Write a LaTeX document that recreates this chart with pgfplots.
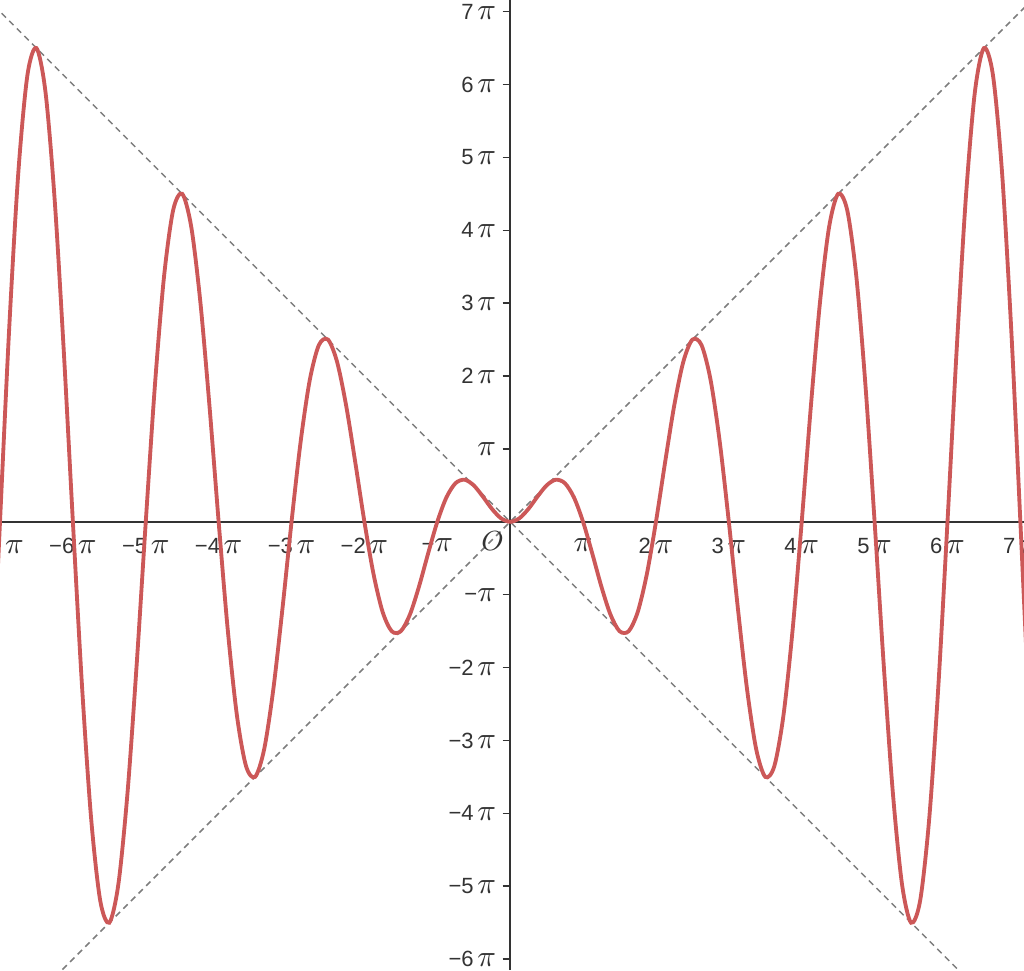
\documentclass[border=0pt]{standalone}
\usepackage{fontspec}
\setmainfont{Liberation Sans}
\usepackage{graphicx}
\usepackage{pgfplots}
\usepackage{pgfplotstable}
\pgfplotsset{compat=1.18}
\definecolor{curvered}{RGB}{204,88,88}
\definecolor{axisgray}{RGB}{51,51,51}
\definecolor{dashgray}{RGB}{125,125,125}
\newcommand{\p}{\scalebox{1.3}{$\pi$}}

% y = x sin x, both axes in units of pi
\pgfplotstableread{
t y
-7.125 -2.7266
-7 0
-6.875 2.6309
-6.75 4.7730
-6.625 6.1207
-6.5 6.5
-6.375 5.8897
-6.25 4.4194
-6.125 2.3439
-6 0
-5.875 -2.2483
-5.75 -4.0659
-5.625 -5.1968
-5.5 -5.5
-5.375 -4.9659
-5.25 -3.7123
-5.125 -1.9613
-5 0
-4.875 1.8656
-4.75 3.3588
-4.625 4.2729
-4.5 4.5
-4.375 4.0420
-4.25 3.0052
-4.125 1.5786
-4 0
-3.875 -1.4829
-3.75 -2.6517
-3.625 -3.3491
-3.5 -3.5
-3.375 -3.1181
-3.25 -2.2981
-3.125 -1.1959
-3 0
-2.875 1.1002
-2.75 1.9445
-2.625 2.4252
-2.5 2.5
-2.375 2.1942
-2.25 1.5910
-2.125 0.8132
-2 0
-1.875 -0.7175
-1.75 -1.2374
-1.625 -1.5013
-1.5 -1.5
-1.375 -1.2703
-1.25 -0.8839
-1.125 -0.4305
-1 0
-0.875 0.3348
-0.75 0.5303
-0.625 0.5774
-0.5 0.5
-0.375 0.3465
-0.25 0.1768
-0.125 0.0478
0 0
0.125 0.0478
0.25 0.1768
0.375 0.3465
0.5 0.5
0.625 0.5774
0.75 0.5303
0.875 0.3348
1 0
1.125 -0.4305
1.25 -0.8839
1.375 -1.2703
1.5 -1.5
1.625 -1.5013
1.75 -1.2374
1.875 -0.7175
2 0
2.125 0.8132
2.25 1.5910
2.375 2.1942
2.5 2.5
2.625 2.4252
2.75 1.9445
2.875 1.1002
3 0
3.125 -1.1959
3.25 -2.2981
3.375 -3.1181
3.5 -3.5
3.625 -3.3491
3.75 -2.6517
3.875 -1.4829
4 0
4.125 1.5786
4.25 3.0052
4.375 4.0420
4.5 4.5
4.625 4.2729
4.75 3.3588
4.875 1.8656
5 0
5.125 -1.9613
5.25 -3.7123
5.375 -4.9659
5.5 -5.5
5.625 -5.1968
5.75 -4.0659
5.875 -2.2483
6 0
6.125 2.3439
6.25 4.4194
6.375 5.8897
6.5 6.5
6.625 6.1207
6.75 4.7730
6.875 2.6309
7 0
7.125 -2.7266
}\curve

\begin{document}
\begin{tikzpicture}
\useasboundingbox (0,0) rectangle (14.05cm,13.31cm);
\clip (0,0) rectangle (14.05cm,13.31cm);
\begin{axis}[
    scale only axis,
    width=14.05cm, height=13.31cm,
    xmin=-7, xmax=7.05,
    ymin=-6.15, ymax=7.16,
    axis lines=middle,
    axis line style={axisgray, line width=0.6pt, -},
    xtick={-7,-6,-5,-4,-3,-2,-1,1,2,3,4,5,6,7},
    xticklabels={−7\,\p,−6\,\p,−5\,\p,−4\,\p,−3\,\p,−2\,\p,−\p,\p,2\,\p,3\,\p,4\,\p,5\,\p,6\,\p,7\,\p},
    ytick={-6,-5,-4,-3,-2,-1,1,2,3,4,5,6,7},
    yticklabels={−6\,\p,−5\,\p,−4\,\p,−3\,\p,−2\,\p,−\p,\p,2\,\p,3\,\p,4\,\p,5\,\p,6\,\p,7\,\p},
    tick label style={font=\fontsize{8.6}{10}\selectfont, text=axisgray},
    xticklabel style={anchor=north, yshift=0pt},
    yticklabel style={anchor=east, xshift=1pt},
    xtick style={draw=none},
    ytick style={axisgray, line width=0.6pt},
    tick align=outside,
    major tick length=3pt,
]
\addplot[dashgray, line width=0.6pt, dash pattern=on 2.4pt off 1.8pt] coordinates {(-7.5,7.5) (7.5,-7.5)};
\addplot[dashgray, line width=0.6pt, dash pattern=on 2.4pt off 1.8pt] coordinates {(-7.5,-7.5) (7.5,7.5)};
\addplot[curvered, line width=1.5pt, smooth, no marks] table[x=t, y=y] {\curve};
\node[font=\fontsize{8.6}{10}\selectfont, text=axisgray] at (axis cs:-0.24,-0.27) {\scalebox{1.2}{$O$}};
\end{axis}
\end{tikzpicture}
\end{document}
